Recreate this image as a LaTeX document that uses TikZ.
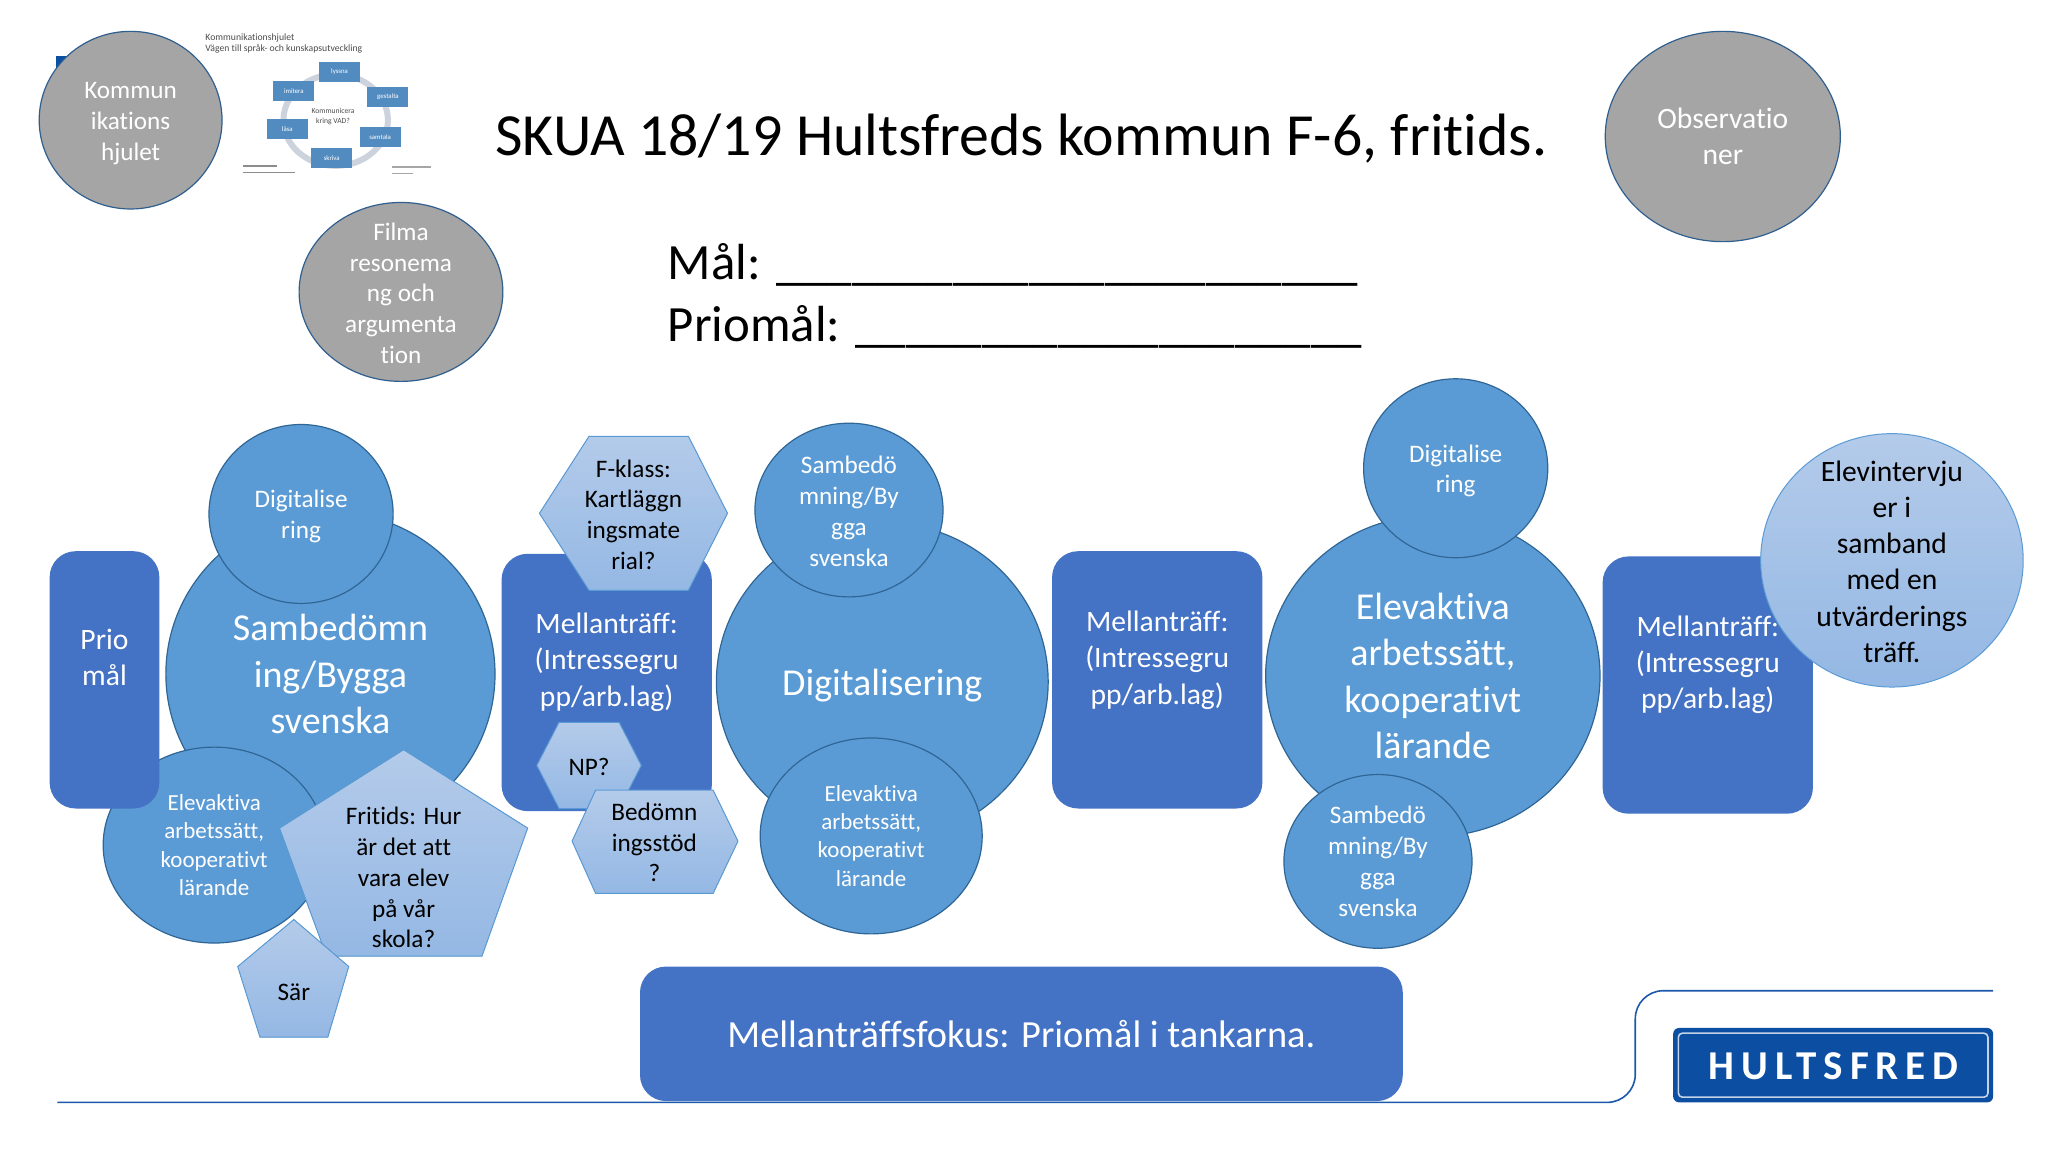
\documentclass[tikz,border=0pt]{standalone}
\usepackage{fontspec}
\setmainfont[Ligatures=CommonOff]{Carlito}
\usetikzlibrary{shapes.geometric}
\definecolor{discblue}{HTML}{5B9BD5}
\definecolor{discedge}{HTML}{2F6696}
\definecolor{boxblue}{HTML}{4472C4}
\definecolor{greyfill}{HTML}{A5A5A5}
\definecolor{greyedge}{HTML}{2F5F8F}
\definecolor{palehi}{HTML}{B4CBEA}
\definecolor{palelo}{HTML}{94B8E4}
\definecolor{paleedge}{HTML}{5B9BD5}
\definecolor{signblue}{HTML}{0B4EA2}
\definecolor{ringgrey}{HTML}{CDD3DC}
\tikzset{
    disc/.style 2 args={ellipse, inner sep=-30pt, align=center, draw=discedge, line width=0.6pt, fill=discblue, text=white, minimum width=#1*0.65306pt, minimum height=#2*0.65306pt},
    greydisc/.style 2 args={disc={#1}{#2}, fill=greyfill, draw=greyedge, text=white},
    palefill/.style={draw=paleedge, line width=0.5pt, top color=palehi, bottom color=palelo},
    roundbox/.style 2 args={rectangle, inner sep=0pt, align=center, fill=boxblue, rounded corners=13pt, minimum width=#1*0.65306pt, minimum height=#2*0.65306pt},
    wheelbox/.style={rectangle, inner sep=0pt, fill=discblue!90!black, text=white, font=\fontsize{3.4}{4}\selectfont, minimum width=20.5pt, minimum height=10pt},
    wlabel/.style={align=center, text=white, inner sep=0pt},
    blabel/.style={align=center, text=black, inner sep=0pt},
    fsmall/.style={font=\fontsize{11.5}{14.1}\selectfont},
    fnorm/.style={font=\fontsize{12.6}{15.4}\selectfont},
    fmid/.style={font=\fontsize{14.8}{18.1}\selectfont},
    fbig/.style={font=\fontsize{19}{23.3}\selectfont},
}
\begin{document}
\begin{tikzpicture}[x=0.65306pt, y=-0.65306pt]
    \useasboundingbox (0,0) rectangle (1568,882);
    \fill[white] (0,0) rectangle (1568,882);

    % pasted wheel picture, top left
    \fill[signblue] (43,43) rectangle (60,60);
    \draw[ringgrey, line width=3pt] (257,92) ellipse (40 and 35);
    \node[wheelbox] (lyssna) at (260,55) {lyssna};
    \node[wheelbox] (gestalta) at (297,74) {gestalta};
    \node[wheelbox] (samtala) at (291,105) {samtala};
    \node[wheelbox] (skriva) at (254,121) {skriva};
    \node[wheelbox] (lasa) at (220,99) {läsa};
    \node[wheelbox] (imitera) at (225,70) {imitera};
    \node[blabel, text=black!70, font=\fontsize{3.8}{5}\selectfont] (wheelmid) at (255,89) {Kommunicera\\kring VAD?};
    \node[blabel, align=left, anchor=west, font=\fontsize{4.85}{5.6}\selectfont, text=black!70] (wheeltop) at (157,33) {Kommunikationshjulet\\Vägen till språk- och kunskapsutveckling};
    \draw[black!45, line width=0.7pt] (186,127) -- (212,127) (186,132) -- (226,132);
    \draw[black!35, line width=0.7pt] (300,128) -- (330,128) (300,133) -- (316,133);

    % grey circles
    \node[greydisc={140}{136}] (hjulet) at (100,92) {};
    \node[wlabel, fnorm] (hjulettext) at (100,94.5) {Kommun\\ikations\\hjulet};
    \node[greydisc={156}{137}] (filma) at (307,223.5) {};
    \node[wlabel, fnorm] (filmatext) at (307,224.5) {Filma\\resonema\\ng och\\argumenta\\tion};
    \node[greydisc={180}{161}, fmid] (obs) at (1319,104.5) {Observatio\\ner};

    % heading
    \node[blabel, font=\fontsize{29.9}{36}\selectfont] (rubrik) at (782,106) {SKUA 18/19 Hultsfreds kommun F-6, fritids.};
    \node[blabel, anchor=west, font=\fontsize{25.4}{31}\selectfont] (mal) at (511,203) {Mål: \_\_\_\_\_\_\_\_\_\_\_\_\_\_\_\_\_\_\_\_\_\_\_};
    \node[blabel, anchor=west, font=\fontsize{25.4}{31}\selectfont] (priomal) at (511,250) {Priomål: \_\_\_\_\_\_\_\_\_\_\_\_\_\_\_\_\_\_\_\_};

    % first block
    \node[disc={252}{248}, fbig] (samb) at (253,516) {Sambedömn\\ing/Bygga\\svenska};
    \node[disc={141}{137}] (digi) at (230.5,393.5) {};
    \node[wlabel, fnorm] (digitext) at (230.5,395.5) {Digitalise\\ring};
    \node[disc={170}{150}, fsmall] (elev) at (164,647) {Elevaktiva\\arbetssätt,\\kooperativt\\lärande};
    \node[roundbox={84}{197}] (prio) at (80,520.5) {};
    \node[wlabel, fmid] (priotext) at (80,503.5) {Prio\\mål};
    \filldraw[palefill] (309,574) -- (404,634) -- (369,732) -- (250,732) -- (214,634) -- cycle;
    \node[blabel, fnorm] (fritids) at (309,672) {Fritids: Hur\\är det att\\vara elev\\på vår\\skola?};
    \filldraw[palefill] (225,704) -- (267,740) -- (251,794) -- (199,794) -- (182,740) -- cycle;
    \node[blabel, fnorm] (sar) at (225,760) {Sär};

    % first meeting
    \node[roundbox={161}{197}] (mell1) at (464.5,522.5) {};
    \node[wlabel, fmid] (mell1text) at (464.5,507) {Mellanträff:\\(Intressegru\\pp/arb.lag)};
    \filldraw[palefill] (451,334) -- (527,334) -- (557,393) -- (527,452) -- (451,452) -- (413,393) -- cycle;
    \node[blabel, fnorm] (fklass) at (485,394) {F-klass:\\Kartläggn\\ingsmate\\rial?};
    \filldraw[palefill] (428,553) -- (474,553) -- (491,586) -- (474,619) -- (428,619) -- (411,586) -- cycle;
    \node[blabel, fnorm] (np) at (451,587) {NP?};
    \filldraw[palefill] (456,605) -- (546,605) -- (565,644) -- (546,684) -- (456,684) -- (438,644) -- cycle;
    \node[blabel, fnorm] (bedomn) at (501,645) {Bedömn\\ingsstöd\\?};

    % second block
    \node[disc={254}{244}] (digital) at (675.5,522) {};
    \node[wlabel, fbig] (digitaltext) at (675.5,525) {Digitalisering};
    \node[disc={144}{133}] (samb2) at (650,390.5) {};
    \node[wlabel, fnorm] (samb2text) at (650,391.5) {Sambedö\\mning/By\\gga\\svenska};
    \node[disc={170}{150}, fsmall] (elev2) at (667,640) {Elevaktiva\\arbetssätt,\\kooperativt\\lärande};
    \node[roundbox={161}{197}] (mell2) at (886,520.5) {};
    \node[wlabel, fmid] (mell2text) at (886,505.5) {Mellanträff:\\(Intressegru\\pp/arb.lag)};

    % third block
    \node[disc={256}{246}, fbig] (elev3) at (1097,517.5) {Elevaktiva\\arbetssätt,\\kooperativt\\lärande};
    \node[disc={141}{137}] (digi3) at (1114.5,358.5) {};
    \node[wlabel, fnorm] (digi3text) at (1114.5,360.5) {Digitalise\\ring};
    \node[disc={144}{133}, fnorm] (samb3) at (1055,659.5) {Sambedö\\mning/By\\gga\\svenska};
    \node[roundbox={161}{197}] (mell3) at (1307.5,524.5) {};
    \node[wlabel, fmid] (mell3text) at (1307.5,509) {Mellanträff:\\(Intressegru\\pp/arb.lag)};
    \node[ellipse, inner sep=-30pt, align=center, palefill, minimum width=201*0.65306pt, minimum height=194*0.65306pt] (intervju) at (1448.5,429) {};
    \node[blabel, fmid] (intervjutext) at (1448.5,430) {Elevintervju\\er i\\samband\\med en\\utvärderings\\träff.};

    % bottom bar, line and sign
    \node[roundbox={584}{103}, text=white, font=\fontsize{19.2}{23}\selectfont] (fokus) at (782,791.5) {Mellanträffsfokus: Priomål i tankarna.};
    \draw[signblue!70!boxblue, line width=0.8pt, rounded corners=14pt] (44,844) -- (1252,844) -- (1252,758.5) -- (1526,758.5);
    \node[rectangle, rounded corners=3pt, fill=signblue, minimum width=245*0.65306pt, minimum height=57*0.65306pt, inner sep=0pt] (skylt) at (1403.5,815.5) {};
    \draw[white!75!signblue, line width=0.8pt, rounded corners=2pt] (1285,791) rectangle (1522,840);
    \node[text=white, font=\fontsize{20.5}{24}\bfseries\selectfont\addfontfeatures{LetterSpace=17}, inner sep=0pt] (namn) at (1404,816) {HULTSFRED};
\end{tikzpicture}
\end{document}
